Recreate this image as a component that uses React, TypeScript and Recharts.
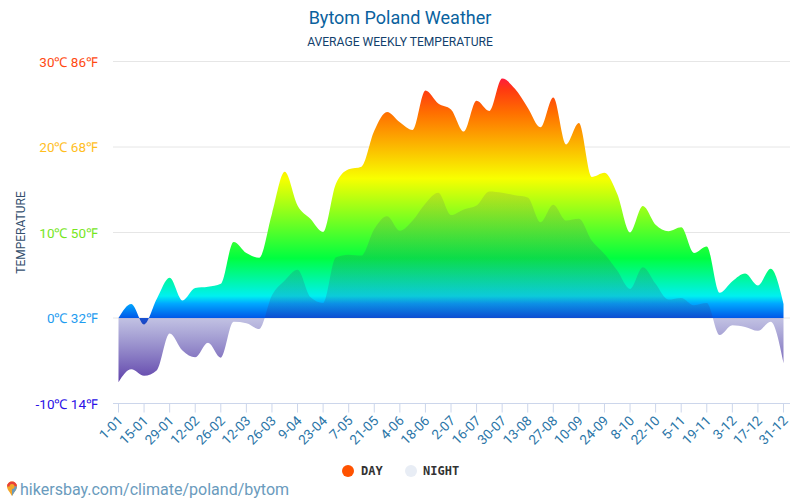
import React from "react";
import { ComposedChart, Area, XAxis, YAxis, CartesianGrid, Legend } from "recharts";

const weeks = ["1-01","8-01","15-01","22-01","29-01","5-02","12-02","19-02","26-02","5-03","12-03","19-03","26-03","2-04","9-04","16-04","23-04","30-04","7-05","14-05","21-05","28-05","4-06","11-06","18-06","25-06","2-07","9-07","16-07","23-07","30-07","6-08","13-08","20-08","27-08","3-09","10-09","17-09","24-09","1-10","8-10","15-10","22-10","29-10","5-11","12-11","19-11","26-11","3-12","10-12","17-12","24-12","31-12"];
const dayTemps = [0,1.65,-0.75,2.25,4.7,2.05,3.5,3.65,4.0,8.9,7.6,7.05,12.2,17.1,13.15,11.6,10.05,15.7,17.4,17.7,21.9,24.1,22.9,22.0,26.6,25.1,24.4,21.8,25.4,24.2,28.0,26.8,24.6,22.3,25.8,20.3,22.8,16.5,17.0,14.5,10.0,13.1,10.9,10.15,10.6,7.6,8.35,2.95,4.3,5.2,3.8,5.75,1.65];
const nightTemps = [-7.5,-6.0,-6.75,-6.1,-1.8,-3.8,-4.6,-2.9,-4.65,-0.45,-0.6,-1.3,2.65,4.4,5.65,2.45,1.75,7.1,7.4,7.3,10.4,11.9,10.2,11.4,13.4,14.65,12.05,12.7,13.15,14.8,14.65,14.35,14.1,11.2,13.25,11.4,11.6,9.05,7.5,5.55,3.4,5.95,4.0,2.15,2.35,1.5,1.75,-2.0,-0.85,-1.05,-1.5,-0.45,-5.3];
const yTicks = [-10,0,10,20,30];
const yLabels: Record<number,[string,string]> = {
  30: ["30℃ 86℉", "#ff4a12"],
  20: ["20℃ 68℉", "#ffbe1e"],
  10: ["10℃ 50℉", "#76e61e"],
  0: ["0℃ 32℉", "#1e9cf0"],
  [-10]: ["-10℃ 14℉", "#2a10e6"],
};

const rows = weeks.map((w, i) => ({ week: w, day: dayTemps[i], night: nightTemps[i] }));

const ZERO_Y = 317.8;
const PX_PER_DEG = 8.56;
const yOf = (v: number) => ZERO_Y - v * PX_PER_DEG;

const YTick = (p: any) => {
  const [t, c] = yLabels[p.payload.value];
  return <text x={98} y={p.y + 5} textAnchor="end" fontSize={13.5} fontFamily="Roboto" fill={c}>{t}</text>;
};
const XTick = (p: any) => (
  <text x={p.x + 5} y={p.y + 7} transform={`rotate(-45 ${p.x + 5} ${p.y + 7})`} textAnchor="end" fontSize={13.5} fontFamily="Roboto" fill="#2c76a8">
    {p.payload.value}
  </text>
);

const LegendBox = () => (
  <div style={{ position: "relative", height: 20, width: 800, fontFamily: "'DejaVu Sans Mono'", fontWeight: 700, fontSize: 12, color: "#333" }}>
    <span style={{ position: "absolute", left: 342, top: 4, width: 12, height: 12, borderRadius: 6, background: "#ff5200" }} />
    <span style={{ position: "absolute", left: 361, top: 3 }}>DAY</span>
    <span style={{ position: "absolute", left: 405, top: 4, width: 12, height: 12, borderRadius: 6, background: "#e8edf5" }} />
    <span style={{ position: "absolute", left: 423, top: 3 }}>NIGHT</span>
  </div>
);

export default function App() {
  return (
    <div style={{ position: "absolute", left: 0, top: 0, width: 800, height: 500, background: "#fff", overflow: "hidden", fontFamily: "Roboto" }}>
      <div style={{ position: "absolute", left: 0, width: 800, top: 7, textAlign: "center", fontSize: 18, color: "#0a629e" }}>Bytom Poland Weather</div>
      <div style={{ position: "absolute", left: 0, width: 800, top: 35, textAlign: "center", fontSize: 12.1, color: "#123f6d" }}>AVERAGE WEEKLY TEMPERATURE</div>
      <ComposedChart width={800} height={500} data={rows} margin={{ top: 61.5, right: 10, bottom: 0, left: 0 }}>
        <defs>
          <linearGradient id="dayFill" gradientUnits="userSpaceOnUse" x1={0} x2={0} y1={yOf(28.5)} y2={yOf(-1)}>
            <stop offset={0} stopColor="#ff1050" />
            <stop offset={0.064} stopColor="#ff3a10" />
            <stop offset={0.153} stopColor="#ff6e00" />
            <stop offset={0.414} stopColor="#f8ff00" />
            <stop offset={0.73} stopColor="#00ff40" />
            <stop offset={0.88} stopColor="#00f0f0" />
            <stop offset={0.91} stopColor="#00a8ff" />
            <stop offset={0.966} stopColor="#0058e8" />
            <stop offset={1} stopColor="#0040c8" />
          </linearGradient>
          <linearGradient id="nightFill" gradientUnits="userSpaceOnUse" x1={0} x2={0} y1={yOf(15)} y2={yOf(-8)}>
            <stop offset={0} stopColor="#503c78" stopOpacity={0.13} />
            <stop offset={0.65} stopColor="#3c2878" stopOpacity={0.2} />
            <stop offset={0.652} stopColor="#4646aa" stopOpacity={0.33} />
            <stop offset={1} stopColor="#3c1496" stopOpacity={0.85} />
          </linearGradient>
        </defs>
        <CartesianGrid vertical={false} stroke="#e6e6e6" />
        <XAxis dataKey="week" scale="point" padding={{ left: 5.5, right: 6.5 }} interval={1} height={76.5} tick={<XTick />} tickSize={9} tickLine={{ stroke: "#ccd6eb" }} axisLine={{ stroke: "#ccd6eb" }} />
        <YAxis domain={[-10, 30]} ticks={yTicks} width={113} axisLine={false} tickLine={false} tick={<YTick />}
          label={{ value: "TEMPERATURE", angle: -90, position: "insideLeft", offset: 21, textAnchor: "middle", style: { fontSize: 12, fill: "#34506e", fontFamily: "Roboto", textAnchor: "middle" } }} />
        <Area dataKey="day" type="monotone" stroke="none" fill="url(#dayFill)" fillOpacity={1} isAnimationActive={false} dot={false} activeDot={false} />
        <Area dataKey="night" type="monotone" stroke="none" fill="url(#nightFill)" fillOpacity={1} isAnimationActive={false} dot={false} activeDot={false} />
        <Legend content={<LegendBox />} wrapperStyle={{ left: 0, top: 461, width: 800 }} />
      </ComposedChart>
      <svg style={{ position: "absolute", left: 6, top: 481 }} width={12} height={16} viewBox="0 0 12 16">
        <path d="M6 15 C3.5 10.5 1 8.5 1 5.5 A5 5 0 0 1 11 5.5 C11 8.5 8.5 10.5 6 15 Z" fill="#f4a62a" />
        <path d="M1 5.5 A5 5 0 0 1 11 5.5 L8.5 5.5 A2.5 2.5 0 0 0 3.5 5.5 Z" fill="#e8403a" />
        <path d="M6 15 C8.5 10.5 11 8.5 11 5.5 L8.5 5.5 A2.5 2.5 0 0 1 6 8 Z" fill="#6a9bbd" />
      </svg>
      <div style={{ position: "absolute", left: 20, top: 480, fontSize: 16.05, color: "#6a9bbd", whiteSpace: "nowrap" }}>hikersbay.com/climate/poland/bytom</div>
    </div>
  );
}
